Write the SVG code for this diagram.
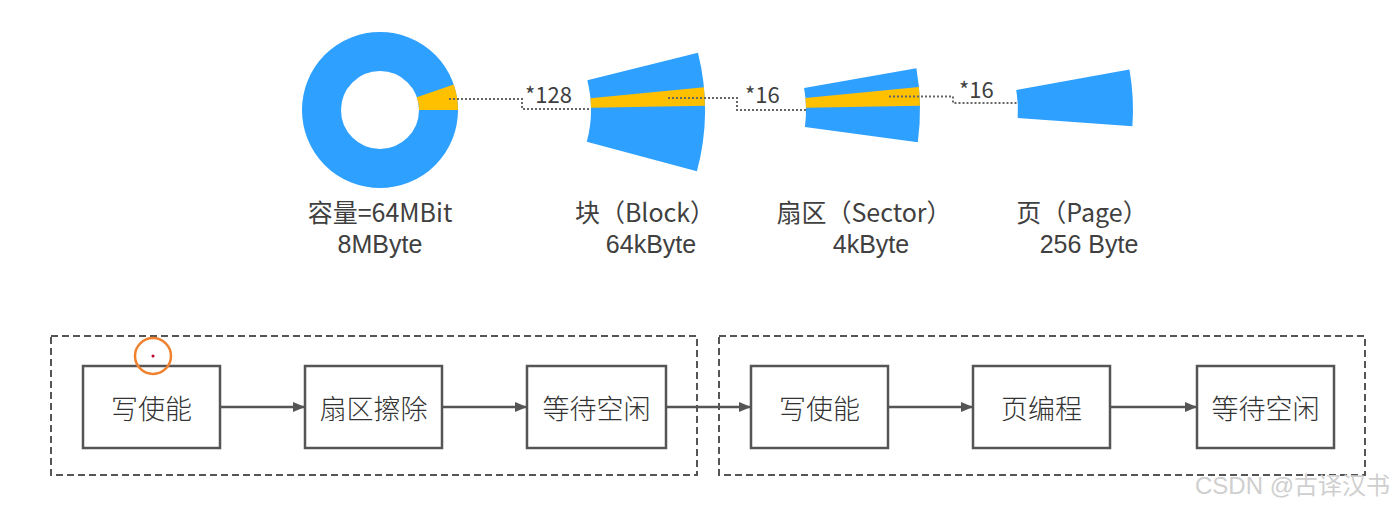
<svg xmlns="http://www.w3.org/2000/svg" width="1395" height="507" viewBox="0 0 1395 507">
  <style>
    .blue { fill: #2EA0FF; }
    .yellow { fill: #FFC000; }
    .dot { fill: none; stroke: #666; stroke-width: 2; stroke-dasharray: 2 2; }
    .lbl { font-family: "Noto Sans CJK SC", "Noto Sans", sans-serif; font-size: 25px; fill: #404040; text-anchor: middle; }
    .lbl2 { font-family: "Liberation Sans", Arial, sans-serif; font-size: 25px; fill: #404040; text-anchor: middle; }
    .mul { font-family: "Noto Sans CJK SC", "Noto Sans", sans-serif; font-size: 22px; fill: #404040; }
    .box { fill: #fff; stroke: #555; stroke-width: 2.5; }
    .btxt { font-family: "Noto Sans CJK SC", sans-serif; font-size: 27px; font-weight: 300; fill: #333; text-anchor: middle; }
    .grp { fill: none; stroke: #555; stroke-width: 2; stroke-dasharray: 7 4; }
    .arr { fill: none; stroke: #555; stroke-width: 2.5; marker-end: url(#ah); }
  </style>
  <defs>
    <marker id="ah" markerWidth="12" markerHeight="10" refX="12" refY="5" orient="auto" markerUnits="userSpaceOnUse">
      <path d="M0,0 L12,5 L0,10 Z" fill="#555"/>
    </marker>
  </defs>
  <rect width="1395" height="507" fill="#fff"/>

  <g id="capacity">
    <circle cx="380" cy="110" r="58.5" fill="none" stroke="#2EA0FF" stroke-width="39"/>
    <path class="yellow" d="M458,110 A78,78 0 0,0 453.75,84.6 L416.87,97.3 A39,39 0 0,1 419,110 Z"/>
    <text class="lbl" x="380" y="222">容量=64MBit</text>
    <text class="lbl2" x="380" y="253">8MByte</text>
  </g>

  <g id="block">
    <path class="blue" d="M587.35,80.25 L697.96,52.67 A237,237 0 0,1 696.9,171.3 L586.8,141.8 A123,123 0 0,0 587.35,80.25 Z"/>
    <path class="yellow" d="M590.43,98.21 L703.9,87.3 A237,237 0 0,1 704.96,105.86 L590.98,107.85 A123,123 0 0,0 590.43,98.21 Z"/>
    <text class="lbl" x="645" y="222">块（Block）</text>
    <text class="lbl2" x="651" y="253">64kByte</text>
  </g>

  <g id="sector">
    <path class="blue" d="M804.1,88.1 L916.4,68.3 A240,240 0 0,1 917.8,142.2 L804.9,126.9 A126,126 0 0,0 804.1,88.1 Z"/>
    <path class="yellow" d="M805.4,97.9 L918.9,87 A240,240 0 0,1 919.96,105.8 L805.98,107.8 A126,126 0 0,0 805.4,97.9 Z"/>
    <text class="lbl" x="864" y="222">扇区（Sector）</text>
    <text class="lbl2" x="871" y="253">4kByte</text>
  </g>

  <g id="page">
    <path class="blue" d="M1016.2,90 L1129.4,69.6 A228,228 0 0,1 1132.4,126.3 L1017.7,118.1 A113,113 0 0,0 1016.2,90 Z"/>
    <text class="lbl" x="1082" y="222">页（Page）</text>
    <text class="lbl2" x="1089" y="253">256 Byte</text>
  </g>

  <g id="zoom-connectors">
    <path class="dot" d="M449,99 H522 V109 H591"/>
    <text class="mul" x="525" y="103">*128</text>
    <path class="dot" d="M668,98 H737 V110 H806"/>
    <text class="mul" x="745" y="103">*16</text>
    <path class="dot" d="M889,96.5 H953 V103 H1017"/>
    <text class="mul" x="959" y="98">*16</text>
  </g>

  <g id="group-erase">
    <rect class="grp" x="51" y="336" width="646" height="139"/>
  </g>
  <g id="group-program">
    <rect class="grp" x="719" y="336" width="646" height="139"/>
  </g>

  <g id="n1">
    <rect class="box" x="83" y="366" width="137" height="82"/>
    <text class="btxt" x="151.5" y="419">写使能</text>
  </g>
  <g id="n2">
    <rect class="box" x="305" y="366" width="137" height="82"/>
    <text class="btxt" x="373.5" y="419">扇区擦除</text>
  </g>
  <g id="n3">
    <rect class="box" x="527" y="366" width="139" height="82"/>
    <text class="btxt" x="596.5" y="419">等待空闲</text>
  </g>
  <g id="n4">
    <rect class="box" x="751" y="366" width="137" height="82"/>
    <text class="btxt" x="819.5" y="419">写使能</text>
  </g>
  <g id="n5">
    <rect class="box" x="973" y="366" width="137" height="82"/>
    <text class="btxt" x="1041.5" y="419">页编程</text>
  </g>
  <g id="n6">
    <rect class="box" x="1197" y="366" width="137" height="82"/>
    <text class="btxt" x="1265.5" y="419">等待空闲</text>
  </g>

  <g id="connectors">
    <path class="arr" d="M220,407 H305"/>
    <path class="arr" d="M442,407 H527"/>
    <path class="arr" d="M666,407 H751"/>
    <path class="arr" d="M888,407 H973"/>
    <path class="arr" d="M1110,407 H1197"/>
  </g>

  <g id="cursor">
    <circle cx="153" cy="356" r="18" fill="none" stroke="#F0812F" stroke-width="2.5"/>
    <circle cx="153" cy="356" r="1.5" fill="#C0002A"/>
  </g>

  <text x="1390" y="494" font-family="Liberation Sans, 'Noto Sans CJK SC', sans-serif" font-size="24" fill="#cfcfcf" text-anchor="end">CSDN @古译汉书</text>
</svg>
